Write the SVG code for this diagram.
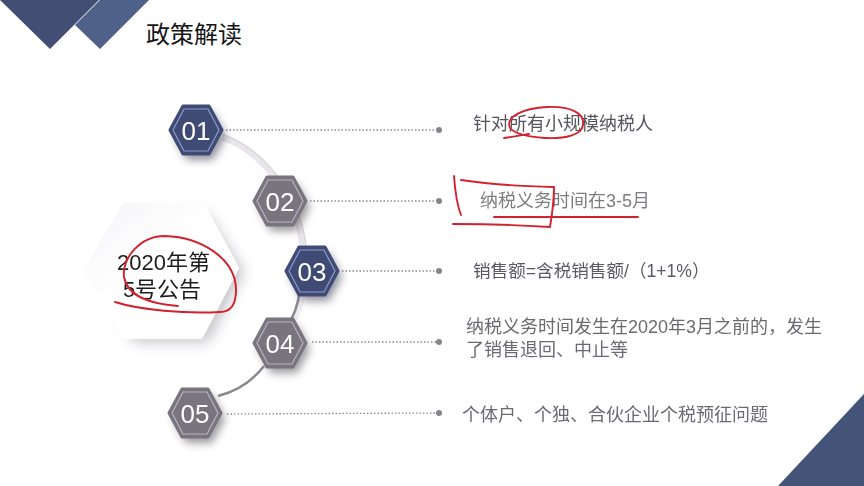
<svg xmlns="http://www.w3.org/2000/svg" width="864" height="486" viewBox="0 0 864 486">
<style>
text{font-family:"Liberation Sans","Noto Sans CJK SC",sans-serif}
.num{font-size:26px;fill:#fff;text-anchor:middle}
.lead{stroke:#8a8a90;stroke-width:1.3;stroke-dasharray:1.5 2;fill:none}
.dot{fill:#85858c}
.blue{fill:#404b74;stroke:#404b74;stroke-width:3;stroke-linejoin:round}
.grey{fill:#79757f;stroke:#79757f;stroke-width:3;stroke-linejoin:round}
.inB{fill:none;stroke:#8b9ccb;stroke-width:1.2}
.inG{fill:none;stroke:#b9b5bd;stroke-width:1.2}
.t{font-size:18px;fill:#6a6a72}
.ink{fill:none;stroke:#d2202f;stroke-width:1.9;stroke-linecap:round;stroke-linejoin:round}
</style>
<defs>
<filter id="sh" x="-50%" y="-50%" width="200%" height="200%"><feGaussianBlur stdDeviation="4"/></filter>
<filter id="sb" x="-50%" y="-50%" width="200%" height="200%"><feGaussianBlur stdDeviation="7"/></filter>
<filter id="soft" x="-5%" y="-5%" width="110%" height="110%"><feGaussianBlur stdDeviation="0.35"/></filter>
<linearGradient id="cf" x1="0" y1="0" x2="1" y2="1"><stop offset="0" stop-color="#f5f4f7"/><stop offset=".45" stop-color="#fff"/></linearGradient>
<polygon id="hx" points="-26,0 -13,-24 13,-24 26,0 13,24 -13,24"/>
<polygon id="hi" points="-23,0 -12,-21 12,-21 23,0 12,21 -12,21"/>
</defs>
<rect width="864" height="486" fill="#fff"/>
<polygon points="100,0 149,0 100,49 75,25" fill="#4f6189"/>
<polygon points="0,0 99,0 50,49" fill="#434e75"/>
<polygon points="778,486 864,394 864,486" fill="#445378"/>
<text x="146" y="43" font-size="24" fill="#151515">政策解读</text>
<g id="connectors">
<path d="M222,137C262,150 296,195 303,245" fill="none" stroke="#e8e6ea" stroke-width="7"/>
<path d="M222,134C265,150 300,195 306,245" fill="none" stroke="#d4d1d6" stroke-width="1"/>
<path d="M303,290C301,305 296,318 290,326" fill="none" stroke="#eeedf0" stroke-width="6"/>
<path d="M300,290C298,305 293,318 287,326" fill="none" stroke="#8c8890" stroke-width="2.5"/>
<path d="M264,366C250,384 234,392 218,396" fill="none" stroke="#8c8890" stroke-width="2.5"/>
<line class="lead" x1="226" y1="130" x2="436" y2="130"/><circle class="dot" cx="439" cy="130" r="3"/>
<line class="lead" x1="310" y1="201" x2="436" y2="201"/><circle class="dot" cx="439" cy="201" r="3"/>
<line class="lead" x1="342" y1="271" x2="436" y2="271"/><circle class="dot" cx="439" cy="271" r="3"/>
<line class="lead" x1="312" y1="342" x2="436" y2="342"/><circle class="dot" cx="439" cy="342" r="3"/>
<line class="lead" x1="227" y1="414" x2="436" y2="413"/><circle class="dot" cx="439" cy="413" r="3"/>
</g>
<g id="center">
<polygon points="100,272 134,215 208,215 244,272 208,342 134,342" fill="#8b8792" opacity=".5" filter="url(#sb)"/>
<polygon points="86,270 124,205 203,205 237,268 201,337 124,337" fill="url(#cf)" stroke="url(#cf)" stroke-width="4" stroke-linejoin="round"/>
<g filter="url(#soft)">
<text x="163.500" y="270" font-size="22" fill="#1c1c1c" text-anchor="middle">2020年第</text>
<text x="162" y="297" font-size="22" fill="#1c1c1c" text-anchor="middle">5号公告</text>
</g>
</g>
<g id="n01" transform="translate(196,130)"><use href="#hx" fill="#4a4a62" opacity=".6" filter="url(#sh)" transform="translate(4,6)"/><g filter="url(#soft)"><use href="#hx" class="blue"/><use href="#hi" class="inB"/><text class="num" y="9.500">01</text></g></g>
<g id="n02" transform="translate(280,201)"><use href="#hx" fill="#55555c" opacity=".6" filter="url(#sh)" transform="translate(4,6)"/><g filter="url(#soft)"><use href="#hx" class="grey"/><use href="#hi" class="inG"/><text class="num" y="9.500">02</text></g></g>
<g id="n03" transform="translate(312,271)"><use href="#hx" fill="#4a4a62" opacity=".6" filter="url(#sh)" transform="translate(4,6)"/><g filter="url(#soft)"><use href="#hx" class="blue"/><use href="#hi" class="inB"/><text class="num" y="9.500">03</text></g></g>
<g id="n04" transform="translate(280,343)"><use href="#hx" fill="#55555c" opacity=".6" filter="url(#sh)" transform="translate(4,6)"/><g filter="url(#soft)"><use href="#hx" class="grey"/><use href="#hi" class="inG"/><text class="num" y="9.500">04</text></g></g>
<g id="n05" transform="translate(195,413)"><use href="#hx" fill="#55555c" opacity=".6" filter="url(#sh)" transform="translate(4,6)"/><g filter="url(#soft)"><use href="#hx" class="grey"/><use href="#hi" class="inG"/><text class="num" y="9.500">05</text></g></g>
<g id="labels" filter="url(#soft)">
<text class="t" x="473" y="130" style="fill:#55555e">针对所有小规模纳税人</text>
<text class="t" x="480" y="207" style="fill:#7c7c84">纳税义务时间在3-5月</text>
<text class="t" x="473" y="277" style="font-size:17.600px;fill:#5a5a63">销售额=含税销售额/（1+1%）</text>
<text class="t" x="466" y="333">纳税义务时间发生在2020年3月之前的，发生</text>
<text class="t" x="466" y="356">了销售退回、中止等</text>
<text class="t" x="462" y="421">个体户、个独、合伙企业个税预征问题</text>
</g>
<g id="annotations" filter="url(#soft)">
<path class="ink" d="M504,138C512,137 522,135 529,134M510,128C505,116 525,108 547,107C570,106 585,113 583,125C582,135 565,139 545,138C530,137 515,134 510,128"/>
<path class="ink" d="M454,176C455,190 457,205 461,215M461,180C480,183 510,186 554,187C554,200 552,215 550,227C520,225 480,224 453,224M494,217C540,217 590,217 638,217"/>
<path class="ink" d="M178,306C150,304 128,297 124,277C122,258 140,236 165,236C200,237 236,258 236,290C236,305 230,312 220,312C185,314 140,310 115,302"/>
</g>
</svg>
